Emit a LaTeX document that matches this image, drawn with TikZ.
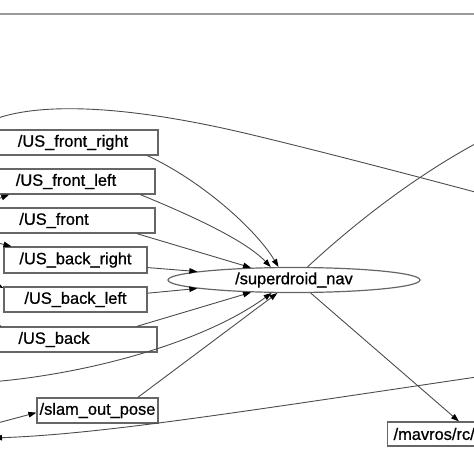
\documentclass[tikz,border=0pt]{standalone}
\usepackage{fontspec}
\setmainfont[FakeBold=0.8]{Liberation Sans}
\usetikzlibrary{arrows.meta,shapes.geometric}
\begin{document}
\begin{tikzpicture}[x=1pt, y=-1pt, font=\fontsize{16.4pt}{19pt}\selectfont,
	topic/.style = {draw=black!60, line width=1.2pt, rectangle, minimum height=25pt, inner sep=2pt},
	nav/.style = {draw=black!60, line width=1.2pt, ellipse, minimum width=252pt, minimum height=25pt, inner sep=0pt},
	edge/.style = {draw=black!70, line width=0.9pt, -{Triangle[length=8pt,width=5.5pt,color=black]}}]
		\useasboundingbox (0,0) rectangle (474,474);
		\clip (0,0) rectangle (474,474);
		\draw[black!40, line width=1.5pt] (0,14) -- (474,14);
		\node[topic, minimum width=170pt] (fr) at (73,142.5) {/US\_front\_right};
		\node[topic, minimum width=178pt] (fl) at (66,181.5) {/US\_front\_left};
		\node[topic, minimum width=202pt] (f) at (54,220.5) {/US\_front};
		\node[topic, minimum width=143pt, minimum height=26pt] (br) at (75.5,260) {/US\_back\_right};
		\node[topic, minimum width=143pt] (bl) at (75.5,299.5) {/US\_back\_left};
		\node[topic, minimum width=206pt] (b) at (54,339.5) {/US\_back};
		\node[topic, minimum width=121pt] (slam) at (97.5,410.5) {/slam\_out\_pose};
		\node[nav] (nav) at (294,280) {/superdroid\_nav};
		\node[topic, anchor=west, text width=120pt, align=left, inner xsep=6pt, minimum height=24pt] (rc) at (387,434) {/mavros/rc/};
		% free ends off the cut
		\coordinate (in1) at (-10,121);
		\coordinate (out1) at (490,196);
		\coordinate (out2) at (490,136);
		\coordinate (inA) at (-10,382);
		\coordinate (inS) at (-10,425);
		\coordinate (inB) at (-6,438);
		\coordinate (outB) at (490,375);
		\coordinate (s1) at (-12,162);
		\coordinate (s2) at (-10,202);
		\coordinate (s3) at (-10,241);
		\coordinate (s4) at (-10,281);
		\coordinate (s5) at (-10,322);
		\draw[edge] (in1) .. controls (30,104) and (110,102) .. (240,132) .. controls (300,146) and (400,172) .. (out1);
		\draw[edge] (nav.44) .. controls (345,232) and (410,178) .. (out2);
		\draw[edge] (fr.-10) .. controls (200,180) and (255,228) .. (nav.140);
		\draw[edge] (fl.-10) .. controls (190,215) and (245,240) .. (nav.151);
		\draw[edge] (f.-9) -- (nav.164);
		\draw[edge] (br.-6) -- (nav.175);
		\draw[edge] (bl.5) -- (nav.185);
		\draw[edge] (b.9) -- (nav.196);
		\draw[edge] (slam.18) -- (nav.218);
		\draw[edge] (inA) .. controls (80,375) and (200,345) .. (nav.210);
		\draw[edge] (nav.-38) -- (rc.67);
		\draw[edge] (inS) -- (slam.182);
		\draw[edge] (outB) .. controls (220,415) and (100,434) .. (inB);
		\draw[edge] (s1) -- (fr.190);
		\draw[edge] (s2) -- (fl.193);
		\draw[edge] (s3) -- (br.168);
		\draw[edge] (s4) -- (bl.171);
		\draw[edge] (s5) -- (b.166);
	\end{tikzpicture}
\end{document}
